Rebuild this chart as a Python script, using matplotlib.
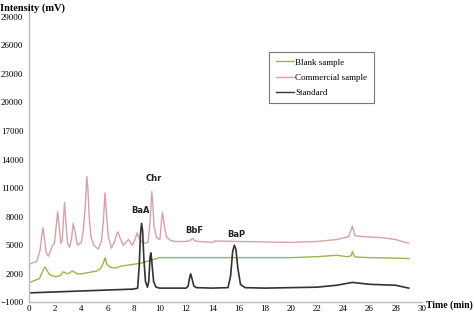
import numpy as np
import matplotlib
matplotlib.use("Agg")
import matplotlib.pyplot as plt

# chromatogram points (time in min, intensity in mV)
std_t = [0.0, 2.0, 4.0, 6.0, 8.0, 8.3, 8.42, 8.52, 8.6, 8.68, 8.78, 8.9, 9.05, 9.15, 9.25, 9.32, 9.4, 9.52,
         9.7, 10.0, 12.0, 12.15, 12.27, 12.35, 12.45, 12.6, 12.8, 14.0, 15.2, 15.4, 15.55, 15.68, 15.8,
         15.95, 16.15, 16.5, 18.0, 20.0, 22.0, 23.5, 24.7, 26.0, 28.0, 29.0]
std_y = [0, 100, 200, 300, 400, 500, 2800, 6200, 7300, 6500, 3500, 1200, 600, 1200, 3800, 4200, 3000, 1200,
         600, 500, 500, 700, 1600, 2000, 1500, 700, 550, 500, 550, 1800, 4300, 5000, 4600, 2600, 900,
         550, 500, 550, 600, 800, 1100, 900, 800, 500]

blank_t = [0.05, 0.8, 1.0, 1.15, 1.25, 1.4, 1.6, 2.0, 2.4, 2.6, 2.75, 2.9, 3.1, 3.3, 3.45, 3.7, 4.0, 4.4,
           4.8, 5.2, 5.5, 5.7, 5.82, 5.95, 6.2, 6.6, 7.0, 7.5, 8.0, 8.5, 9.0, 9.5, 10.0, 10.5, 12.0,
           14.0, 16.0, 18.0, 20.0, 22.0, 23.5, 24.3, 24.6, 24.7, 24.85, 25.2, 26.0, 28.0, 29.0]
blank_y = [1100, 1500, 2100, 2600, 2700, 2300, 1900, 1700, 1800, 2200, 2150, 2000, 2100, 2300, 2200, 2000,
           2000, 2100, 2200, 2300, 2600, 3200, 3700, 3000, 2700, 2600, 2800, 2900, 3000, 3100, 3300,
           3500, 3700, 3700, 3700, 3700, 3700, 3700, 3700, 3800, 3950, 3800, 3900, 4350, 3800, 3750,
           3700, 3650, 3600]

comm_t = [0.0, 0.6, 0.85, 0.98, 1.08, 1.18, 1.32, 1.5, 1.8, 1.95, 2.08, 2.2, 2.32, 2.45, 2.55, 2.65, 2.72,
          2.82, 2.95, 3.1, 3.25, 3.38, 3.5, 3.7, 4.0, 4.15, 4.3, 4.42, 4.5, 4.6, 4.75, 4.95, 5.3, 5.55,
          5.7, 5.8, 5.9, 6.05, 6.3, 6.55, 6.7, 6.8, 6.95, 7.2, 7.6, 7.9, 8.1, 8.25, 8.5, 8.8, 9.1,
          9.25, 9.38, 9.45, 9.55, 9.75, 10.0, 10.12, 10.2, 10.32, 10.5, 10.8, 11.2, 12.0, 12.3, 12.5,
          12.7, 13.0, 14.0, 14.2, 16.0, 18.0, 20.0, 22.0, 23.5, 24.4, 24.7, 24.9, 25.5, 27.0, 28.0,
          29.0]
comm_y = [3000, 3300, 4500, 6000, 6850, 5800, 4200, 3850, 5000, 5200, 7000, 8550, 6800, 5200, 5600, 8000,
          9500, 7500, 5200, 4800, 5600, 7300, 6600, 5000, 5300, 6500, 9000, 12200, 11000, 8000, 5800,
          5000, 4600, 5500, 7800, 10500, 8800, 6000, 4700, 5400, 6200, 6400, 5800, 5000, 5600, 5000,
          5600, 6300, 5500, 5200, 5300, 7500, 10650, 9500, 7000, 5800, 5600, 7500, 8450, 7200, 5900,
          5500, 5400, 5400, 5500, 5700, 5450, 5400, 5300, 5450, 5400, 5350, 5300, 5400, 5600, 5900,
          7000, 6000, 5900, 5800, 5600, 5200]

peak_names = ["BaA", "Chr", "BbF", "BaP"]
peak_t = [8.5, 9.5, 12.6, 15.8]
peak_y = [8200, 11500, 6100, 5700]

fig = plt.figure(figsize=(4.74, 3.15), dpi=100)
ax = fig.add_axes([0.061, 0.04, 0.829, 0.928])

ax.plot(blank_t, blank_y, color="#96b94e", lw=1.0, label="Blank sample")
ax.plot(comm_t, comm_y, color="#d9a0aa", lw=1.0, label="Commercial sample")
ax.plot(std_t, std_y, color="#333333", lw=1.2, label="Standard")

for name, t, y in zip(peak_names, peak_t, peak_y):
    ax.text(t, y, name, fontsize=6, fontweight="bold", ha="center", va="bottom",
            family="DejaVu Sans", color="#222222")

ax.set_xlim(0, 30)
ax.set_ylim(-1000, 29700)
ax.set_xticks(np.arange(0, 31, 2))
ax.set_yticks(np.arange(-1000, 29001, 3000))
ax.tick_params(axis="y", length=0, labelsize=6.5, pad=4)
ax.tick_params(axis="x", length=0, labelsize=6.5, pad=2)
for lbl in ax.get_xticklabels() + ax.get_yticklabels():
    lbl.set_family("Liberation Serif")
for side in ["top", "right"]:
    ax.spines[side].set_visible(False)
for side in ["left", "bottom"]:
    ax.spines[side].set_color("#bbbbbb")
    ax.spines[side].set_linewidth(1.0)

fig.text(0.0, 0.988, "Intensity (mV)", fontsize=7.5, fontweight="bold", family="Liberation Serif",
         ha="left", va="top")
fig.text(0.997, 0.032, "Time (min)", fontsize=7, fontweight="bold", family="Liberation Serif",
         ha="right", va="center")

leg = ax.legend(loc="upper left", bbox_to_anchor=(0.6, 0.872), frameon=True,
                fancybox=False, edgecolor="#555555", handlelength=2.0, handletextpad=0.2,
                labelspacing=0.75, prop={"family": "Liberation Serif", "size": 6.5},
                borderpad=0.7)
leg.get_frame().set_linewidth(0.8)
for line in leg.get_lines():
    line.set_linewidth(1.0)

fig.savefig("out.png", dpi=100)
